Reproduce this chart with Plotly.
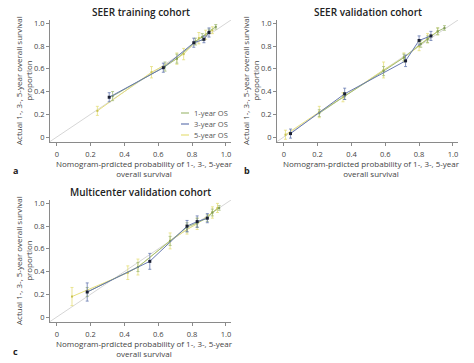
import plotly.graph_objects as go

# ---- data ----
series_names = ["1-year OS", "3-year OS", "5-year OS"]
panel_titles = ["SEER training cohort", "SEER validation cohort", "Multicenter validation cohort"]
panel_letters = ["a", "b", "c"]
tick_vals = [0, 0.2, 0.4, 0.6, 0.8, 1.0]
tick_text = ["0", "0.2", "0.4", "0.6", "0.8", "1.0"]

# panel a
a1_x = [0.33, 0.64, 0.71, 0.82, 0.86, 0.90, 0.94]
a1_y = [0.36, 0.62, 0.69, 0.84, 0.88, 0.93, 0.97]
a1_e = [0.04, 0.04, 0.04, 0.03, 0.03, 0.02, 0.02]
a3_x = [0.31, 0.63, 0.81, 0.87, 0.90]
a3_y = [0.35, 0.61, 0.83, 0.86, 0.92]
a3_e = [0.04, 0.04, 0.04, 0.03, 0.04]
a5_x = [0.24, 0.56, 0.71, 0.75, 0.84, 0.88, 0.92]
a5_y = [0.23, 0.57, 0.69, 0.73, 0.87, 0.90, 0.94]
a5_e = [0.04, 0.05, 0.05, 0.05, 0.05, 0.04, 0.03]

# panel b
b1_x = [0.21, 0.36, 0.59, 0.71, 0.81, 0.85, 0.91, 0.95]
b1_y = [0.21, 0.36, 0.58, 0.70, 0.82, 0.86, 0.93, 0.96]
b1_e = [0.03, 0.03, 0.04, 0.03, 0.03, 0.03, 0.03, 0.02]
b3_x = [0.04, 0.36, 0.72, 0.80, 0.87]
b3_y = [0.03, 0.38, 0.67, 0.85, 0.89]
b3_e = [0.04, 0.05, 0.05, 0.04, 0.04]
b5_x = [0.01, 0.21, 0.35, 0.59, 0.71, 0.80, 0.85, 0.91]
b5_y = [0.02, 0.22, 0.35, 0.59, 0.70, 0.80, 0.87, 0.93]
b5_e = [0.04, 0.05, 0.04, 0.07, 0.04, 0.04, 0.04, 0.03]

# panel c
c1_x = [0.18, 0.48, 0.67, 0.77, 0.83, 0.89, 0.92, 0.96]
c1_y = [0.22, 0.44, 0.67, 0.79, 0.83, 0.87, 0.92, 0.96]
c1_e = [0.04, 0.04, 0.04, 0.04, 0.04, 0.03, 0.03, 0.02]
c3_x = [0.18, 0.55, 0.77, 0.83, 0.89]
c3_y = [0.22, 0.49, 0.80, 0.84, 0.87]
c3_e = [0.08, 0.07, 0.05, 0.05, 0.04]
c5_x = [0.09, 0.42, 0.48, 0.67, 0.77, 0.83, 0.92, 0.95]
c5_y = [0.18, 0.39, 0.44, 0.67, 0.77, 0.82, 0.92, 0.96]
c5_e = [0.08, 0.06, 0.07, 0.07, 0.04, 0.05, 0.05, 0.04]

panels = [
    [(a1_x, a1_y, a1_e), (a3_x, a3_y, a3_e), (a5_x, a5_y, a5_e)],
    [(b1_x, b1_y, b1_e), (b3_x, b3_y, b3_e), (b5_x, b5_y, b5_e)],
    [(c1_x, c1_y, c1_e), (c3_x, c3_y, c3_e), (c5_x, c5_y, c5_e)],
]

colors = ["#a3bd7a", "#6678b0", "#e6df7c"]
marker_colors = ["#7f9a55", "#1a1f33", "#c9c250"]
marker_sizes = [2, 3, 2]

W, H = 474, 363
FONT = "Open Sans"

# plot areas in pixels: (left, right, top, bottom)
boxes = [(50, 231, 20, 142), (277, 458, 20, 142), (50, 231, 200, 322)]
XR = [-0.04, 1.03]
YR = [-0.044, 1.03]

fig = go.Figure()
layout = dict(
    width=W, height=H,
    margin=dict(l=0, r=0, t=0, b=0, autoexpand=False),
    paper_bgcolor="white", plot_bgcolor="white",
    font=dict(family=FONT, size=8, color="#444"),
    showlegend=False,
)
annotations = []
shapes = []

for i, (box, data) in enumerate(zip(boxes, panels)):
    l, r, t, b = box
    sfx = "" if i == 0 else str(i + 1)
    xa, ya = "x" + sfx, "y" + sfx
    axis_common = dict(
        showgrid=False, zeroline=False, showline=True, automargin=False,
        linecolor="#8a8a8a", linewidth=1, ticks="outside", ticklen=3,
        tickcolor="#8a8a8a", tickvals=tick_vals, ticktext=tick_text,
        tickfont=dict(size=7.5, color="#444"),
    )
    layout["xaxis" + sfx] = dict(axis_common, range=XR, domain=[l / W, r / W],
                                 anchor=ya, ticklabelstandoff=2)
    layout["yaxis" + sfx] = dict(axis_common, range=YR, domain=[1 - b / H, 1 - t / H],
                                 anchor=xa)
    annotations.append(dict(text="Nomogram-prdicted probability of 1-, 3-, 5-year<br>overall survival",
                            x=(l + r + 8) / 2 / W, y=1 - (b + 26) / H, xref="paper", yref="paper",
                            xanchor="center", yanchor="middle", showarrow=False,
                            font=dict(size=8, color="#444")))
    annotations.append(dict(text="Actual 1-, 3-, 5-year overall survival<br>proportion",
                            x=(l - 27) / W, y=1 - (t + b) / 2 / H, xref="paper", yref="paper",
                            xanchor="center", yanchor="middle", showarrow=False, textangle=-90,
                            font=dict(size=8, color="#444")))
    fig.add_trace(go.Scatter(x=[XR[0], XR[1]], y=[XR[0], XR[1]], mode="lines",
                             line=dict(color="#d6d6d6", width=1), xaxis=xa, yaxis=ya,
                             hoverinfo="skip"))
    for k in [2, 0, 1]:
        xs, ys, es = data[k]
        fig.add_trace(go.Scatter(
            x=xs, y=ys, mode="lines+markers",
            line=dict(color=colors[k], width=1),
            marker=dict(color=marker_colors[k], size=marker_sizes[k], symbol="square"),
            error_y=dict(type="data", array=es, color=colors[k], thickness=0.8, width=1.5),
            name=series_names[k], xaxis=xa, yaxis=ya,
        ))

    annotations.append(dict(text=panel_titles[i], x=(l + r) / 2 / W, y=1 - (t - 8) / H,
                            xref="paper", yref="paper", xanchor="center", yanchor="middle",
                            showarrow=False, font=dict(size=10, color="#222", family=FONT, weight=600)))
    lx = 15 if i != 1 else 247
    ly = 170 if i != 2 else 351
    annotations.append(dict(text="<b>" + panel_letters[i] + "</b>", x=lx / W, y=1 - ly / H,
                            xref="paper", yref="paper", xanchor="center", yanchor="middle",
                            showarrow=False, font=dict(size=9, color="#222", family=FONT)))

# manual legend in panel a
leg_rows = [113, 124, 135]
for k in range(3):
    yy = 1 - leg_rows[k] / H
    shapes.append(dict(type="line", xref="paper", yref="paper", x0=181 / W, x1=189 / W,
                       y0=yy, y1=yy, line=dict(color=colors[k], width=1.2)))
    annotations.append(dict(text=series_names[k], x=192 / W, y=yy, xref="paper", yref="paper",
                            xanchor="left", yanchor="middle", showarrow=False,
                            font=dict(size=7.5, color="#555")))

layout["annotations"] = annotations
layout["shapes"] = shapes
fig.update_layout(**layout)
fig.write_html("out.html", config={"displayModeBar": False, "staticPlot": True},
               post_script="document.body.style.margin='0';document.body.style.overflow='hidden';")
